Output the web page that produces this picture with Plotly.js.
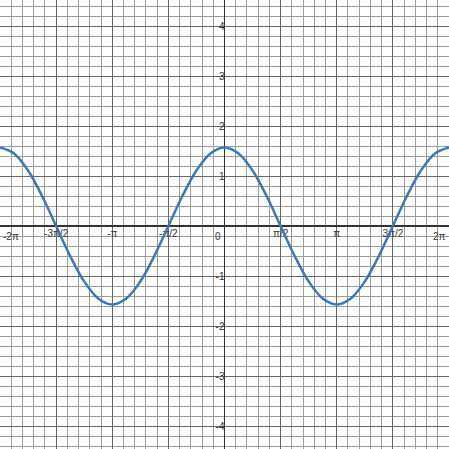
<!DOCTYPE html>
<html lang="en">

<head>
    <meta charset="UTF-8">
    <script src="https://cdn.plot.ly/plotly-3.0.1.min.js"></script>
    <title>cos curve</title>
    <style>
        html, body { margin: 0; padding: 0; background: #fff; }
        #graph { width: 449px; height: 449px; }
    </style>
</head>

<body>
    <div id="graph"></div>

    <script>
        // x positions, in multiples of pi (steps of pi/8)
        var x_pi = [-2, -1.875, -1.75, -1.625, -1.5, -1.375, -1.25, -1.125,
            -1, -0.875, -0.75, -0.625, -0.5, -0.375, -0.25, -0.125,
            0, 0.125, 0.25, 0.375, 0.5, 0.625, 0.75, 0.875,
            1, 1.125, 1.25, 1.375, 1.5, 1.625, 1.75, 1.875, 2]
        // curve heights
        var y_vals = [1.57, 1.45, 1.11, 0.60, 0, -0.60, -1.11, -1.45,
            -1.57, -1.45, -1.11, -0.60, 0, 0.60, 1.11, 1.45,
            1.57, 1.45, 1.11, 0.60, 0, -0.60, -1.11, -1.45,
            -1.57, -1.45, -1.11, -0.60, 0, 0.60, 1.11, 1.45, 1.57]

        // x tick labels (inner ones on the axis, the two ends pinned inside)
        var x_tick_pi = [-1.5, -1, -0.5, 0.5, 1, 1.5]
        var x_tick_text = ['-3π/2', '-π', '-π/2', 'π/2', 'π', '3π/2']
        var x_edge_pi = [-2, 2]
        var x_edge_text = ['-2π', '2π']
        var y_tick_vals = [-4, -3, -2, -1, 1, 2, 3, 4]
        var y_tick_text = ['-4', '-3', '-2', '-1', '1', '2', '3', '4']

        var PI = Math.PI
        var y_lo = -4.46
        var y_hi = 4.52

        var lab_font = { family: 'Liberation Sans, Arial, sans-serif', size: 10, color: '#333' }

        var trace = {
            x: x_pi.map(function(v) { return v * PI }),
            y: y_vals,
            mode: 'lines',
            line: { color: '#3a78b9', width: 2.5, shape: 'spline', smoothing: 1 },
            hoverinfo: 'skip'
        }

        var annos = x_edge_pi.map(function(v, i) {
            return {
                x: v * PI, y: 0, xref: 'x', yref: 'y',
                text: x_edge_text[i], showarrow: false,
                xanchor: v < 0 ? 'left' : 'right', yanchor: 'top',
                xshift: v < 0 ? 1 : -1, yshift: -3,
                font: lab_font
            }
        })
        annos.push({
            x: 0, y: 0, xref: 'x', yref: 'y', text: '0', showarrow: false,
            xanchor: 'right', yanchor: 'top', xshift: -2, yshift: -3,
            font: lab_font
        })

        var layout = {
            width: 449,
            height: 449,
            margin: { l: 0, r: 0, t: 0, b: 0, pad: 0 },
            paper_bgcolor: '#fff',
            plot_bgcolor: '#fff',
            showlegend: false,
            font: lab_font,
            xaxis: {
                range: [-2 * PI, 2 * PI],
                anchor: 'free',
                position: (0 - y_lo) / (y_hi - y_lo),
                tickmode: 'array',
                tickvals: x_tick_pi.map(function(v) { return v * PI }),
                ticktext: x_tick_text,
                ticks: '',
                ticklabelstandoff: 0,
                showgrid: true,
                gridcolor: '#666',
                gridwidth: 1,
                minor: { tickmode: 'linear', tick0: 0, dtick: PI / 10, showgrid: true, gridcolor: '#9c9c9c', gridwidth: 1, ticks: '' },
                zeroline: true,
                zerolinecolor: '#333',
                zerolinewidth: 1.5,
                showline: false,
                layer: 'below traces',
                fixedrange: true
            },
            yaxis: {
                range: [y_lo, y_hi],
                anchor: 'free',
                position: 0.5,
                tickmode: 'array',
                tickvals: y_tick_vals,
                ticktext: y_tick_text,
                ticks: '',
                ticklabelstandoff: 0,
                showgrid: true,
                gridcolor: '#666',
                gridwidth: 1,
                minor: { tickmode: 'linear', tick0: 0, dtick: 0.2, showgrid: true, gridcolor: '#9c9c9c', gridwidth: 1, ticks: '' },
                zeroline: true,
                zerolinecolor: '#333',
                zerolinewidth: 1.5,
                showline: false,
                layer: 'below traces',
                fixedrange: true
            },
            annotations: annos
        }

        Plotly.newPlot('graph', [trace], layout, { displayModeBar: false, staticPlot: true })
    </script>
</body>

</html>
